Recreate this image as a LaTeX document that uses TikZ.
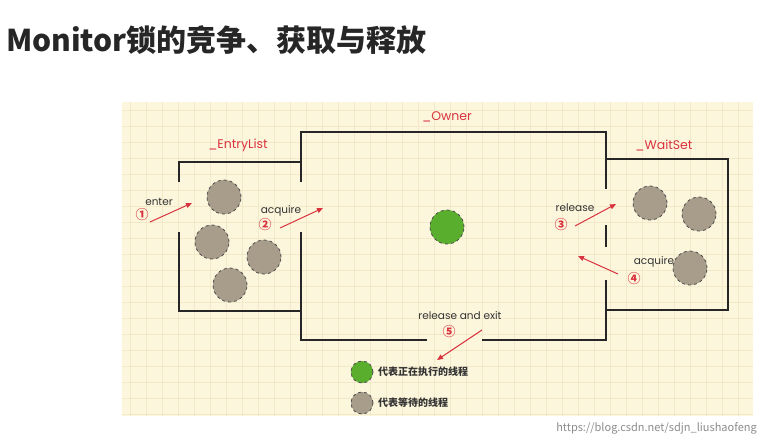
\documentclass[tikz,border=0pt]{standalone}
\usepackage{fontspec}
\setmainfont{Poppins}
\newfontfamily\cjk{Noto Sans CJK SC}
\usetikzlibrary{arrows.meta}
\definecolor{bg}{HTML}{FCF6DC}
\definecolor{gridc}{HTML}{F3E8C8}
\definecolor{lred}{HTML}{D9333F}
\definecolor{thr}{HTML}{A89C8A}
\definecolor{own}{HTML}{5AAE2E}
\tikzset{
  wall/.style={line width=1.6pt, black!85},
  lab/.style={text=lred, font=\fontsize{12.5}{12.5}\selectfont, inner sep=0},
  txt/.style={text=black!80, font=\fontsize{10.5}{10.5}\selectfont, inner sep=0},
  num/.style={text=lred, font=\cjk\bfseries\fontsize{13}{13}\selectfont, inner sep=0},
  arr/.style={lred, line width=1pt, -{Triangle[length=6pt,width=5pt]}},
  waiting/.style={circle, minimum size=34pt, inner sep=0, fill=thr, draw=black!70, dashed, line width=0.8pt},
  running/.style={waiting, fill=own},
}
\begin{document}
\begin{tikzpicture}[x=1pt,y=-1pt]
\useasboundingbox (0,0) rectangle (768,444);
\fill[white] (0,0) rectangle (768,444);
\fill[bg] (122,102) rectangle (753,416);
\foreach \gx in {130,146,...,752} \draw[gridc, line width=0.4pt] (\gx,102) -- (\gx,416);
\foreach \gy in {110,126,...,416} \draw[gridc, line width=0.4pt] (122,\gy) -- (753,\gy);
\node[anchor=west, font=\cjk\bfseries\fontsize{30}{30}\selectfont, text=black!85, inner sep=0] (title) at (6,40) {Monitor锁的竞争、获取与释放};
% walls
\draw[wall] (301,182) -- (301,132) -- (606,132) -- (606,189);
\draw[wall] (606,225) -- (606,247);
\draw[wall] (606,280) -- (606,340) -- (482,340);
\draw[wall] (427,340) -- (301,340) -- (301,232);
\draw[wall] (179,182) -- (179,162) -- (301,162);
\draw[wall] (179,232) -- (179,311) -- (301,311);
\draw[wall] (606,159) -- (728,159) -- (728,310) -- (606,310);
% labels
\node[lab] (owner) at (447,117) {\_Owner};
\node[lab] (entry) at (238,145) {\_EntryList};
\node[lab] (wait) at (664,146) {\_WaitSet};
% threads
\node[waiting] (e1) at (224,197) {};
\node[waiting] (e2) at (212,242) {};
\node[waiting] (e3) at (264,257) {};
\node[waiting] (e4) at (230,285) {};
\node[running] (o1) at (447,227) {};
\node[waiting] (w1) at (650,203) {};
\node[waiting] (w2) at (699,214) {};
\node[waiting] (w3) at (690,268) {};
% arrows
\coordinate (a1s) at (150,222); \coordinate (a1e) at (192,203);
\draw[arr] (a1s) -- (a1e);
\node[txt] (t1) at (159,202) {enter};
\node[num] (n1) at (142,215) {①};
\coordinate (a2s) at (280,228); \coordinate (a2e) at (323,208);
\draw[arr] (a2s) -- (a2e);
\node[txt] (t2) at (281,211) {acquire};
\node[num] (n2) at (265,225) {②};
\coordinate (a3s) at (575,226); \coordinate (a3e) at (616,204);
\draw[arr] (a3s) -- (a3e);
\node[txt] (t3) at (575,208) {release};
\node[num] (n3) at (561,225) {③};
\coordinate (a4s) at (618,274); \coordinate (a4e) at (578,256);
\draw[arr] (a4s) -- (a4e);
\node[txt] (t4) at (654,262) {acquire};
\node[num] (n4) at (634,279) {④};
\coordinate (a5s) at (482,330); \coordinate (a5e) at (437,360);
\draw[arr] (a5s) -- (a5e);
\node[txt] (t5) at (460,316) {release and exit};
\node[num] (n5) at (449,332) {⑤};
% legend
\node[running, minimum size=22pt] (lg) at (362,372) {};
\node[txt, font=\cjk\bfseries\fontsize{10}{10}\selectfont, anchor=west] (lgt) at (378,372) {代表正在执行的线程};
\node[waiting, minimum size=22pt] (lw) at (362,403) {};
\node[txt, font=\cjk\bfseries\fontsize{10}{10}\selectfont, anchor=west] (lwt) at (378,403) {代表等待的线程};
\node[anchor=east, text=black!45, font=\cjk\fontsize{11}{11}\selectfont, inner sep=0] (wm) at (757,428) {https://blog.csdn.net/sdjn\_liushaofeng};
\end{tikzpicture}
\end{document}
